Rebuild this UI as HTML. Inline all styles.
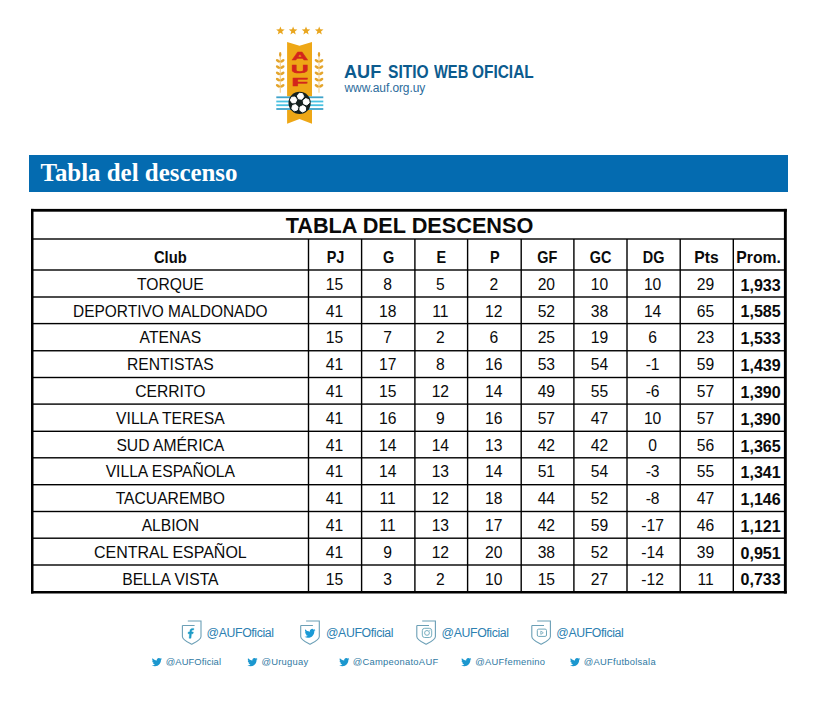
<!DOCTYPE html>
<html lang="es">
<head>
<meta charset="utf-8">
<title>Tabla del descenso</title>
<style>
html,body{margin:0;padding:0;background:#fff;}
body{width:820px;height:715px;position:relative;overflow:hidden;font-family:"Liberation Sans",sans-serif;}
.abs{position:absolute;white-space:nowrap;}
#logo{position:absolute;left:270px;top:20px;}
#site{left:0;top:62.2px;font:bold 17.6px/20px "Liberation Sans",sans-serif;color:#0c5b8e;}
#site span{position:absolute;top:0;transform-origin:0 0;}
#url{left:344.5px;top:81px;font:12px/14px "Liberation Sans",sans-serif;color:#2c6c9c;letter-spacing:-0.1px;}
#bar{left:29px;top:155px;width:758.8px;height:36.8px;background:#046bb0;}
#bar span{position:absolute;left:11.6px;top:3.6px;font:bold 24.9px/28px "Liberation Serif",serif;color:#fff;}
#grid{position:absolute;left:0;top:200px;}
.c{position:absolute;text-align:center;white-space:nowrap;color:#0a0a0a;font:16.4px/26.85px "Liberation Sans",sans-serif;height:26.85px;transform:scaleX(0.955);}
.h{font:bold 16.4px/32px "Liberation Sans",sans-serif;height:32px;transform:scaleX(0.88);}
.b{font-weight:bold;font-size:17px;transform:scaleX(0.945);}
#ttl{left:32.3px;width:755px;top:210.6px;height:28px;font:bold 22px/29px "Liberation Sans",sans-serif;text-align:center;color:#0a0a0a;transform:scaleX(0.985);}
.s1{font:12.3px/14px "Liberation Sans",sans-serif;color:#2c80b1;letter-spacing:-0.38px;top:625.7px;}
.s2{font:9.4px/11px "Liberation Sans",sans-serif;color:#2f79a3;letter-spacing:0.27px;top:656.4px;}
</style>
</head>
<body>
<svg id="logo" width="60" height="110" viewBox="270 20 60 110">
<polygon points="280.40,26.40 281.51,29.37 284.68,29.51 282.20,31.48 283.05,34.54 280.40,32.79 277.75,34.54 278.60,31.48 276.12,29.51 279.29,29.37" fill="#e9a61f"/>
<polygon points="293.10,26.40 294.21,29.37 297.38,29.51 294.90,31.48 295.75,34.54 293.10,32.79 290.45,34.54 291.30,31.48 288.82,29.51 291.99,29.37" fill="#e9a61f"/>
<polygon points="306.00,26.40 307.11,29.37 310.28,29.51 307.80,31.48 308.65,34.54 306.00,32.79 303.35,34.54 304.20,31.48 301.72,29.51 304.89,29.37" fill="#e9a61f"/>
<polygon points="319.20,26.40 320.31,29.37 323.48,29.51 321.00,31.48 321.85,34.54 319.20,32.79 316.55,34.54 317.40,31.48 314.92,29.51 318.09,29.37" fill="#e9a61f"/>
<path d="M287.1 41.9 L299.5 45.8 L312 41.9 L312 123.7 L299.5 119.1 L287.1 123.7 Z" fill="#eea716"/>
<text x="0" y="60.1" text-anchor="middle" font-family="Liberation Sans, sans-serif" font-weight="bold" font-size="11.8" fill="#d3251c" stroke="#d3251c" stroke-width="0.5" transform="translate(299.8 0) scale(1.9 1)">A</text>
<text x="0" y="73.2" text-anchor="middle" font-family="Liberation Sans, sans-serif" font-weight="bold" font-size="11.8" fill="#d3251c" stroke="#d3251c" stroke-width="0.5" transform="translate(299.8 0) scale(2.05 1)">U</text>
<text x="0" y="86.2" text-anchor="middle" font-family="Liberation Sans, sans-serif" font-weight="bold" font-size="11.8" fill="#d3251c" stroke="#d3251c" stroke-width="0.5" transform="translate(299.8 0) scale(2.3 1)">F</text>
<rect x="279.8" y="56" width="0.8" height="36.7" fill="#eebb60"/><ellipse cx="280.2" cy="54.4" rx="1.2" ry="2.4" fill="#e3a12a"/><ellipse cx="278.00" cy="60.80" rx="2.4" ry="1.4" fill="#e4a52c" transform="rotate(33 278.00 60.80)"/><ellipse cx="282.40" cy="60.80" rx="2.4" ry="1.4" fill="#e4a52c" transform="rotate(-33 282.40 60.80)"/><ellipse cx="278.00" cy="67.05" rx="2.4" ry="1.4" fill="#e4a52c" transform="rotate(33 278.00 67.05)"/><ellipse cx="282.40" cy="67.05" rx="2.4" ry="1.4" fill="#e4a52c" transform="rotate(-33 282.40 67.05)"/><ellipse cx="278.00" cy="73.30" rx="2.4" ry="1.4" fill="#e4a52c" transform="rotate(33 278.00 73.30)"/><ellipse cx="282.40" cy="73.30" rx="2.4" ry="1.4" fill="#e4a52c" transform="rotate(-33 282.40 73.30)"/><ellipse cx="278.00" cy="79.55" rx="2.4" ry="1.4" fill="#e4a52c" transform="rotate(33 278.00 79.55)"/><ellipse cx="282.40" cy="79.55" rx="2.4" ry="1.4" fill="#e4a52c" transform="rotate(-33 282.40 79.55)"/><ellipse cx="278.00" cy="85.80" rx="2.4" ry="1.4" fill="#e4a52c" transform="rotate(33 278.00 85.80)"/><ellipse cx="282.40" cy="85.80" rx="2.4" ry="1.4" fill="#e4a52c" transform="rotate(-33 282.40 85.80)"/>
<rect x="318.6" y="56" width="0.8" height="36.7" fill="#eebb60"/><ellipse cx="319.0" cy="54.4" rx="1.2" ry="2.4" fill="#e3a12a"/><ellipse cx="316.80" cy="60.80" rx="2.4" ry="1.4" fill="#e4a52c" transform="rotate(33 316.80 60.80)"/><ellipse cx="321.20" cy="60.80" rx="2.4" ry="1.4" fill="#e4a52c" transform="rotate(-33 321.20 60.80)"/><ellipse cx="316.80" cy="67.05" rx="2.4" ry="1.4" fill="#e4a52c" transform="rotate(33 316.80 67.05)"/><ellipse cx="321.20" cy="67.05" rx="2.4" ry="1.4" fill="#e4a52c" transform="rotate(-33 321.20 67.05)"/><ellipse cx="316.80" cy="73.30" rx="2.4" ry="1.4" fill="#e4a52c" transform="rotate(33 316.80 73.30)"/><ellipse cx="321.20" cy="73.30" rx="2.4" ry="1.4" fill="#e4a52c" transform="rotate(-33 321.20 73.30)"/><ellipse cx="316.80" cy="79.55" rx="2.4" ry="1.4" fill="#e4a52c" transform="rotate(33 316.80 79.55)"/><ellipse cx="321.20" cy="79.55" rx="2.4" ry="1.4" fill="#e4a52c" transform="rotate(-33 321.20 79.55)"/><ellipse cx="316.80" cy="85.80" rx="2.4" ry="1.4" fill="#e4a52c" transform="rotate(33 316.80 85.80)"/><ellipse cx="321.20" cy="85.80" rx="2.4" ry="1.4" fill="#e4a52c" transform="rotate(-33 321.20 85.80)"/>
<rect x="276.3" y="96.4" width="47" height="13.5" fill="#fff"/>
<rect x="276.3" y="96.40" width="47" height="1.8" fill="#3fa3ca"/>
<rect x="276.3" y="100.60" width="47" height="1.8" fill="#49c2e2"/>
<rect x="276.3" y="104.30" width="47" height="1.8" fill="#49c2e2"/>
<rect x="276.3" y="108.10" width="47" height="1.8" fill="#3fa3ca"/>
<circle cx="299.6" cy="102.9" r="11.1" fill="#14201f"/>
<polygon points="302.53,93.70 303.75,96.72 301.75,99.28 298.53,98.83 297.31,95.81 299.31,93.25" fill="#fff" stroke="#fff" stroke-width="1.0" stroke-linejoin="round"/>
<polygon points="309.25,102.85 306.76,104.94 303.71,103.83 303.14,100.62 305.63,98.54 308.69,99.65" fill="#fff" stroke="#fff" stroke-width="1.0" stroke-linejoin="round"/>
<polygon points="302.63,112.06 299.88,110.34 299.99,107.09 302.86,105.57 305.62,107.29 305.50,110.54" fill="#fff" stroke="#fff" stroke-width="1.0" stroke-linejoin="round"/>
<polygon points="291.82,108.62 292.61,105.46 295.73,104.57 298.07,106.82 297.28,109.98 294.16,110.87" fill="#fff" stroke="#fff" stroke-width="1.0" stroke-linejoin="round"/>
<polygon points="291.76,97.27 295.00,97.04 296.82,99.74 295.40,102.66 292.15,102.88 290.34,100.19" fill="#fff" stroke="#fff" stroke-width="1.0" stroke-linejoin="round"/>
</svg>
<div class="abs" id="site"><span style="left:343.9px;transform:scaleX(1.03)">AUF</span> <span style="left:387.9px;transform:scaleX(0.885)">SITIO</span> <span style="left:433.5px;transform:scaleX(0.835)">WEB</span> <span style="left:471.9px;transform:scaleX(0.877)">OFICIAL</span></div>
<div class="abs" id="url">www.auf.org.uy</div>
<div class="abs" id="bar"><span>Tabla del descenso</span></div>
<div class="abs" id="ttl">TABLA DEL DESCENSO</div>
<!--GRID-->
<svg id="grid" width="820" height="400" viewBox="0 200 820 400">
<rect x="31" y="208.9" width="755.8" height="2.8" fill="#000"/>
<rect x="31" y="591" width="755.8" height="2.5" fill="#000"/>
<rect x="31" y="208.9" width="2.5" height="384.6" fill="#000"/>
<rect x="783.9" y="208.9" width="2.9" height="384.6" fill="#000"/>
<rect x="32" y="238.30" width="753" height="1.4" fill="#000"/>
<rect x="32" y="269.30" width="753" height="1.4" fill="#000"/>
<rect x="32" y="296.30" width="753" height="1.4" fill="#000"/>
<rect x="32" y="322.90" width="753" height="1.4" fill="#000"/>
<rect x="32" y="350.05" width="753" height="1.4" fill="#000"/>
<rect x="32" y="376.80" width="753" height="1.4" fill="#000"/>
<rect x="32" y="403.40" width="753" height="1.4" fill="#000"/>
<rect x="32" y="430.60" width="753" height="1.4" fill="#000"/>
<rect x="32" y="457.10" width="753" height="1.4" fill="#000"/>
<rect x="32" y="484.00" width="753" height="1.4" fill="#000"/>
<rect x="32" y="510.80" width="753" height="1.4" fill="#000"/>
<rect x="32" y="537.50" width="753" height="1.4" fill="#000"/>
<rect x="32" y="564.30" width="753" height="1.4" fill="#000"/>
<rect x="307.80" y="239" width="1.4" height="353" fill="#000"/>
<rect x="360.90" y="239" width="1.4" height="353" fill="#000"/>
<rect x="414.20" y="239" width="1.4" height="353" fill="#000"/>
<rect x="466.90" y="239" width="1.4" height="353" fill="#000"/>
<rect x="520.50" y="239" width="1.4" height="353" fill="#000"/>
<rect x="573.20" y="239" width="1.4" height="353" fill="#000"/>
<rect x="626.30" y="239" width="1.4" height="353" fill="#000"/>
<rect x="679.50" y="239" width="1.4" height="353" fill="#000"/>
<rect x="732.60" y="239" width="1.4" height="353" fill="#000"/>
</svg>
<div class="c h" style="left:31.8px;width:276.7px;top:241.1px;transform:scaleX(0.9)">Club</div>
<div class="c h" style="left:308.5px;width:53.1px;top:241.1px">PJ</div>
<div class="c h" style="left:361.6px;width:53.3px;top:241.1px">G</div>
<div class="c h" style="left:414.9px;width:52.7px;top:241.1px">E</div>
<div class="c h" style="left:467.6px;width:53.6px;top:241.1px">P</div>
<div class="c h" style="left:521.2px;width:52.7px;top:241.1px">GF</div>
<div class="c h" style="left:573.9px;width:53.1px;top:241.1px">GC</div>
<div class="c h" style="left:627.0px;width:53.2px;top:241.1px">DG</div>
<div class="c h" style="left:680.2px;width:53.1px;top:241.1px;transform:scaleX(0.955)">Pts</div>
<div class="c h" style="left:733.3px;width:51.2px;top:241.1px;transform:scaleX(0.96)">Prom.</div>
<div class="c" style="left:31.8px;width:276.7px;top:270.7px">TORQUE</div>
<div class="c" style="left:307.6px;width:53.1px;top:270.7px">15</div>
<div class="c" style="left:360.7px;width:53.3px;top:270.7px">8</div>
<div class="c" style="left:414.0px;width:52.7px;top:270.7px">5</div>
<div class="c" style="left:466.7px;width:53.6px;top:270.7px">2</div>
<div class="c" style="left:520.3px;width:52.7px;top:270.7px">20</div>
<div class="c" style="left:573.0px;width:53.1px;top:270.7px">10</div>
<div class="c" style="left:626.1px;width:53.2px;top:270.7px">10</div>
<div class="c" style="left:679.3px;width:53.1px;top:270.7px">29</div>
<div class="c b" style="left:734.9px;width:51.2px;top:272.6px">1,933</div>
<div class="c" style="left:31.8px;width:276.7px;top:297.5px;transform:scaleX(0.942)">DEPORTIVO MALDONADO</div>
<div class="c" style="left:307.6px;width:53.1px;top:297.5px">41</div>
<div class="c" style="left:360.7px;width:53.3px;top:297.5px">18</div>
<div class="c" style="left:414.0px;width:52.7px;top:297.5px">11</div>
<div class="c" style="left:466.7px;width:53.6px;top:297.5px">12</div>
<div class="c" style="left:520.3px;width:52.7px;top:297.5px">52</div>
<div class="c" style="left:573.0px;width:53.1px;top:297.5px">38</div>
<div class="c" style="left:626.1px;width:53.2px;top:297.5px">14</div>
<div class="c" style="left:679.3px;width:53.1px;top:297.5px">65</div>
<div class="c b" style="left:734.9px;width:51.2px;top:299.4px">1,585</div>
<div class="c" style="left:31.8px;width:276.7px;top:324.4px">ATENAS</div>
<div class="c" style="left:307.6px;width:53.1px;top:324.4px">15</div>
<div class="c" style="left:360.7px;width:53.3px;top:324.4px">7</div>
<div class="c" style="left:414.0px;width:52.7px;top:324.4px">2</div>
<div class="c" style="left:466.7px;width:53.6px;top:324.4px">6</div>
<div class="c" style="left:520.3px;width:52.7px;top:324.4px">25</div>
<div class="c" style="left:573.0px;width:53.1px;top:324.4px">19</div>
<div class="c" style="left:626.1px;width:53.2px;top:324.4px">6</div>
<div class="c" style="left:679.3px;width:53.1px;top:324.4px">23</div>
<div class="c b" style="left:734.9px;width:51.2px;top:326.2px">1,533</div>
<div class="c" style="left:31.8px;width:276.7px;top:351.3px">RENTISTAS</div>
<div class="c" style="left:307.6px;width:53.1px;top:351.3px">41</div>
<div class="c" style="left:360.7px;width:53.3px;top:351.3px">17</div>
<div class="c" style="left:414.0px;width:52.7px;top:351.3px">8</div>
<div class="c" style="left:466.7px;width:53.6px;top:351.3px">16</div>
<div class="c" style="left:520.3px;width:52.7px;top:351.3px">53</div>
<div class="c" style="left:573.0px;width:53.1px;top:351.3px">54</div>
<div class="c" style="left:626.1px;width:53.2px;top:351.3px">-1</div>
<div class="c" style="left:679.3px;width:53.1px;top:351.3px">59</div>
<div class="c b" style="left:734.9px;width:51.2px;top:353.2px">1,439</div>
<div class="c" style="left:31.8px;width:276.7px;top:378.0px">CERRITO</div>
<div class="c" style="left:307.6px;width:53.1px;top:378.0px">41</div>
<div class="c" style="left:360.7px;width:53.3px;top:378.0px">15</div>
<div class="c" style="left:414.0px;width:52.7px;top:378.0px">12</div>
<div class="c" style="left:466.7px;width:53.6px;top:378.0px">14</div>
<div class="c" style="left:520.3px;width:52.7px;top:378.0px">49</div>
<div class="c" style="left:573.0px;width:53.1px;top:378.0px">55</div>
<div class="c" style="left:626.1px;width:53.2px;top:378.0px">-6</div>
<div class="c" style="left:679.3px;width:53.1px;top:378.0px">57</div>
<div class="c b" style="left:734.9px;width:51.2px;top:379.9px">1,390</div>
<div class="c" style="left:31.8px;width:276.7px;top:404.9px">VILLA TERESA</div>
<div class="c" style="left:307.6px;width:53.1px;top:404.9px">41</div>
<div class="c" style="left:360.7px;width:53.3px;top:404.9px">16</div>
<div class="c" style="left:414.0px;width:52.7px;top:404.9px">9</div>
<div class="c" style="left:466.7px;width:53.6px;top:404.9px">16</div>
<div class="c" style="left:520.3px;width:52.7px;top:404.9px">57</div>
<div class="c" style="left:573.0px;width:53.1px;top:404.9px">47</div>
<div class="c" style="left:626.1px;width:53.2px;top:404.9px">10</div>
<div class="c" style="left:679.3px;width:53.1px;top:404.9px">57</div>
<div class="c b" style="left:734.9px;width:51.2px;top:406.8px">1,390</div>
<div class="c" style="left:31.8px;width:276.7px;top:431.7px">SUD AMÉRICA</div>
<div class="c" style="left:307.6px;width:53.1px;top:431.7px">41</div>
<div class="c" style="left:360.7px;width:53.3px;top:431.7px">14</div>
<div class="c" style="left:414.0px;width:52.7px;top:431.7px">14</div>
<div class="c" style="left:466.7px;width:53.6px;top:431.7px">13</div>
<div class="c" style="left:520.3px;width:52.7px;top:431.7px">42</div>
<div class="c" style="left:573.0px;width:53.1px;top:431.7px">42</div>
<div class="c" style="left:626.1px;width:53.2px;top:431.7px">0</div>
<div class="c" style="left:679.3px;width:53.1px;top:431.7px">56</div>
<div class="c b" style="left:734.9px;width:51.2px;top:433.6px">1,365</div>
<div class="c" style="left:31.8px;width:276.7px;top:458.4px">VILLA ESPAÑOLA</div>
<div class="c" style="left:307.6px;width:53.1px;top:458.4px">41</div>
<div class="c" style="left:360.7px;width:53.3px;top:458.4px">14</div>
<div class="c" style="left:414.0px;width:52.7px;top:458.4px">13</div>
<div class="c" style="left:466.7px;width:53.6px;top:458.4px">14</div>
<div class="c" style="left:520.3px;width:52.7px;top:458.4px">51</div>
<div class="c" style="left:573.0px;width:53.1px;top:458.4px">54</div>
<div class="c" style="left:626.1px;width:53.2px;top:458.4px">-3</div>
<div class="c" style="left:679.3px;width:53.1px;top:458.4px">55</div>
<div class="c b" style="left:734.9px;width:51.2px;top:460.3px">1,341</div>
<div class="c" style="left:31.8px;width:276.7px;top:485.3px">TACUAREMBO</div>
<div class="c" style="left:307.6px;width:53.1px;top:485.3px">41</div>
<div class="c" style="left:360.7px;width:53.3px;top:485.3px">11</div>
<div class="c" style="left:414.0px;width:52.7px;top:485.3px">12</div>
<div class="c" style="left:466.7px;width:53.6px;top:485.3px">18</div>
<div class="c" style="left:520.3px;width:52.7px;top:485.3px">44</div>
<div class="c" style="left:573.0px;width:53.1px;top:485.3px">52</div>
<div class="c" style="left:626.1px;width:53.2px;top:485.3px">-8</div>
<div class="c" style="left:679.3px;width:53.1px;top:485.3px">47</div>
<div class="c b" style="left:734.9px;width:51.2px;top:487.2px">1,146</div>
<div class="c" style="left:31.8px;width:276.7px;top:512.0px">ALBION</div>
<div class="c" style="left:307.6px;width:53.1px;top:512.0px">41</div>
<div class="c" style="left:360.7px;width:53.3px;top:512.0px">11</div>
<div class="c" style="left:414.0px;width:52.7px;top:512.0px">13</div>
<div class="c" style="left:466.7px;width:53.6px;top:512.0px">17</div>
<div class="c" style="left:520.3px;width:52.7px;top:512.0px">42</div>
<div class="c" style="left:573.0px;width:53.1px;top:512.0px">59</div>
<div class="c" style="left:626.1px;width:53.2px;top:512.0px">-17</div>
<div class="c" style="left:679.3px;width:53.1px;top:512.0px">46</div>
<div class="c b" style="left:734.9px;width:51.2px;top:513.9px">1,121</div>
<div class="c" style="left:31.8px;width:276.7px;top:538.8px;transform:scaleX(0.975)">CENTRAL ESPAÑOL</div>
<div class="c" style="left:307.6px;width:53.1px;top:538.8px">41</div>
<div class="c" style="left:360.7px;width:53.3px;top:538.8px">9</div>
<div class="c" style="left:414.0px;width:52.7px;top:538.8px">12</div>
<div class="c" style="left:466.7px;width:53.6px;top:538.8px">20</div>
<div class="c" style="left:520.3px;width:52.7px;top:538.8px">38</div>
<div class="c" style="left:573.0px;width:53.1px;top:538.8px">52</div>
<div class="c" style="left:626.1px;width:53.2px;top:538.8px">-14</div>
<div class="c" style="left:679.3px;width:53.1px;top:538.8px">39</div>
<div class="c b" style="left:734.9px;width:51.2px;top:540.7px">0,951</div>
<div class="c" style="left:31.8px;width:276.7px;top:565.5px">BELLA VISTA</div>
<div class="c" style="left:307.6px;width:53.1px;top:565.5px">15</div>
<div class="c" style="left:360.7px;width:53.3px;top:565.5px">3</div>
<div class="c" style="left:414.0px;width:52.7px;top:565.5px">2</div>
<div class="c" style="left:466.7px;width:53.6px;top:565.5px">10</div>
<div class="c" style="left:520.3px;width:52.7px;top:565.5px">15</div>
<div class="c" style="left:573.0px;width:53.1px;top:565.5px">27</div>
<div class="c" style="left:626.1px;width:53.2px;top:565.5px">-12</div>
<div class="c" style="left:679.3px;width:53.1px;top:565.5px">11</div>
<div class="c b" style="left:734.9px;width:51.2px;top:567.4px">0,733</div>
<!--/GRID-->
<!--FOOT-->
<svg id="foot" width="820" height="95" viewBox="0 610 820 95" style="position:absolute;left:0;top:610px">
<g transform="translate(181.9 620.2)"><path d="M0.5 5.3H12.7M0.5 5.3V16.2C0.5 19.6 5.6 21.8 9.8 24C14 21.8 19.1 19.6 19.1 16.2V0.8H5.9" fill="none" stroke="#6b9fb6" stroke-width="1.1"/><path d="M13.6 22v-8.6h2.9l.45-3.4H13.6V7.85c0-.98.27-1.65 1.68-1.65h1.8V3.16c-.31-.04-1.38-.13-2.620-.13-2.600 0-4.370 1.580-4.370 4.490V10H7.150v3.400h2.940V22z" fill="#1c9bc6" stroke="#1c9bc6" stroke-width="0.8" transform="translate(3.2 6.6) scale(0.52) skewX(-6)"/></g>
<g transform="translate(300.2 620.2)"><path d="M0.5 5.3H12.7M0.5 5.3V16.2C0.5 19.6 5.6 21.8 9.8 24C14 21.8 19.1 19.6 19.1 16.2V0.8H5.9" fill="none" stroke="#6b9fb6" stroke-width="1.1"/><path d="M23.953 4.57a10 10 0 01-2.825.775 4.958 4.958 0 002.163-2.723c-.951.555-2.005.959-3.127 1.184a4.92 4.92 0 00-8.384 4.482C7.69 8.095 4.067 6.13 1.64 3.162a4.822 4.822 0 00-.666 2.475c0 1.71.87 3.213 2.188 4.096a4.904 4.904 0 01-2.228-.616v.06a4.923 4.923 0 003.946 4.827 4.996 4.996 0 01-2.212.085 4.936 4.936 0 004.604 3.417 9.867 9.867 0 01-6.102 2.105c-.39 0-.779-.023-1.17-.067a13.995 13.995 0 007.557 2.209c9.053 0 13.998-7.496 13.998-13.985 0-.21 0-.42-.015-.63A9.935 9.935 0 0024 4.59z" fill="#1b9ad6" transform="translate(4.3 7.7) scale(0.455)"/></g>
<g transform="translate(416.3 620.2)"><path d="M0.5 5.3H12.7M0.5 5.3V16.2C0.5 19.6 5.6 21.8 9.8 24C14 21.8 19.1 19.6 19.1 16.2V0.8H5.9" fill="none" stroke="#6b9fb6" stroke-width="1.1"/><rect x="6" y="8.1" width="9.4" height="9.2" rx="2.4" fill="none" stroke="#76aebf" stroke-width="1"/><circle cx="10.7" cy="12.7" r="2.4" fill="none" stroke="#76aebf" stroke-width="1"/><circle cx="13.5" cy="10" r="0.55" fill="#76aebf"/></g>
<g transform="translate(531.3 620.2)"><path d="M0.5 5.3H12.7M0.5 5.3V16.2C0.5 19.6 5.6 21.8 9.8 24C14 21.8 19.1 19.6 19.1 16.2V0.8H5.9" fill="none" stroke="#6b9fb6" stroke-width="1.1"/><rect x="6" y="8.9" width="9.2" height="7.3" rx="1.4" fill="none" stroke="#6fa6ba" stroke-width="1"/><path d="M9.5 10.9L12 12.55L9.5 14.2Z" fill="none" stroke="#6fa6ba" stroke-width="0.8" stroke-linejoin="round"/></g>
<path d="M23.953 4.57a10 10 0 01-2.825.775 4.958 4.958 0 002.163-2.723c-.951.555-2.005.959-3.127 1.184a4.92 4.92 0 00-8.384 4.482C7.69 8.095 4.067 6.13 1.64 3.162a4.822 4.822 0 00-.666 2.475c0 1.71.87 3.213 2.188 4.096a4.904 4.904 0 01-2.228-.616v.06a4.923 4.923 0 003.946 4.827 4.996 4.996 0 01-2.212.085 4.936 4.936 0 004.604 3.417 9.867 9.867 0 01-6.102 2.105c-.39 0-.779-.023-1.17-.067a13.995 13.995 0 007.557 2.209c9.053 0 13.998-7.496 13.998-13.985 0-.21 0-.42-.015-.63A9.935 9.935 0 0024 4.59z" fill="#1b97cf" transform="translate(151.8 657) scale(0.425)"/>
<path d="M23.953 4.57a10 10 0 01-2.825.775 4.958 4.958 0 002.163-2.723c-.951.555-2.005.959-3.127 1.184a4.92 4.92 0 00-8.384 4.482C7.69 8.095 4.067 6.13 1.64 3.162a4.822 4.822 0 00-.666 2.475c0 1.71.87 3.213 2.188 4.096a4.904 4.904 0 01-2.228-.616v.06a4.923 4.923 0 003.946 4.827 4.996 4.996 0 01-2.212.085 4.936 4.936 0 004.604 3.417 9.867 9.867 0 01-6.102 2.105c-.39 0-.779-.023-1.17-.067a13.995 13.995 0 007.557 2.209c9.053 0 13.998-7.496 13.998-13.985 0-.21 0-.42-.015-.63A9.935 9.935 0 0024 4.59z" fill="#1b97cf" transform="translate(247.4 657) scale(0.425)"/>
<path d="M23.953 4.57a10 10 0 01-2.825.775 4.958 4.958 0 002.163-2.723c-.951.555-2.005.959-3.127 1.184a4.92 4.92 0 00-8.384 4.482C7.69 8.095 4.067 6.13 1.64 3.162a4.822 4.822 0 00-.666 2.475c0 1.71.87 3.213 2.188 4.096a4.904 4.904 0 01-2.228-.616v.06a4.923 4.923 0 003.946 4.827 4.996 4.996 0 01-2.212.085 4.936 4.936 0 004.604 3.417 9.867 9.867 0 01-6.102 2.105c-.39 0-.779-.023-1.17-.067a13.995 13.995 0 007.557 2.209c9.053 0 13.998-7.496 13.998-13.985 0-.21 0-.42-.015-.63A9.935 9.935 0 0024 4.59z" fill="#1b97cf" transform="translate(339.2 657) scale(0.425)"/>
<path d="M23.953 4.57a10 10 0 01-2.825.775 4.958 4.958 0 002.163-2.723c-.951.555-2.005.959-3.127 1.184a4.92 4.92 0 00-8.384 4.482C7.69 8.095 4.067 6.13 1.64 3.162a4.822 4.822 0 00-.666 2.475c0 1.71.87 3.213 2.188 4.096a4.904 4.904 0 01-2.228-.616v.06a4.923 4.923 0 003.946 4.827 4.996 4.996 0 01-2.212.085 4.936 4.936 0 004.604 3.417 9.867 9.867 0 01-6.102 2.105c-.39 0-.779-.023-1.17-.067a13.995 13.995 0 007.557 2.209c9.053 0 13.998-7.496 13.998-13.985 0-.21 0-.42-.015-.63A9.935 9.935 0 0024 4.59z" fill="#1b97cf" transform="translate(461.2 657) scale(0.425)"/>
<path d="M23.953 4.57a10 10 0 01-2.825.775 4.958 4.958 0 002.163-2.723c-.951.555-2.005.959-3.127 1.184a4.92 4.92 0 00-8.384 4.482C7.69 8.095 4.067 6.13 1.64 3.162a4.822 4.822 0 00-.666 2.475c0 1.71.87 3.213 2.188 4.096a4.904 4.904 0 01-2.228-.616v.06a4.923 4.923 0 003.946 4.827 4.996 4.996 0 01-2.212.085 4.936 4.936 0 004.604 3.417 9.867 9.867 0 01-6.102 2.105c-.39 0-.779-.023-1.17-.067a13.995 13.995 0 007.557 2.209c9.053 0 13.998-7.496 13.998-13.985 0-.21 0-.42-.015-.63A9.935 9.935 0 0024 4.59z" fill="#1b97cf" transform="translate(570.0 657) scale(0.425)"/>
</svg>
<div class="abs s1" style="left:206.6px">@AUFOficial</div>
<div class="abs s1" style="left:326.0px">@AUFOficial</div>
<div class="abs s1" style="left:441.6px">@AUFOficial</div>
<div class="abs s1" style="left:556.3px">@AUFOficial</div>
<div class="abs s2" style="left:165.7px;letter-spacing:0.1px">@AUFOficial</div>
<div class="abs s2" style="left:261.4px">@Uruguay</div>
<div class="abs s2" style="left:352.7px">@CampeonatoAUF</div>
<div class="abs s2" style="left:475.2px">@AUFfemenino</div>
<div class="abs s2" style="left:583.7px">@AUFfutbolsala</div>
<!--/FOOT-->
</body>
</html>
